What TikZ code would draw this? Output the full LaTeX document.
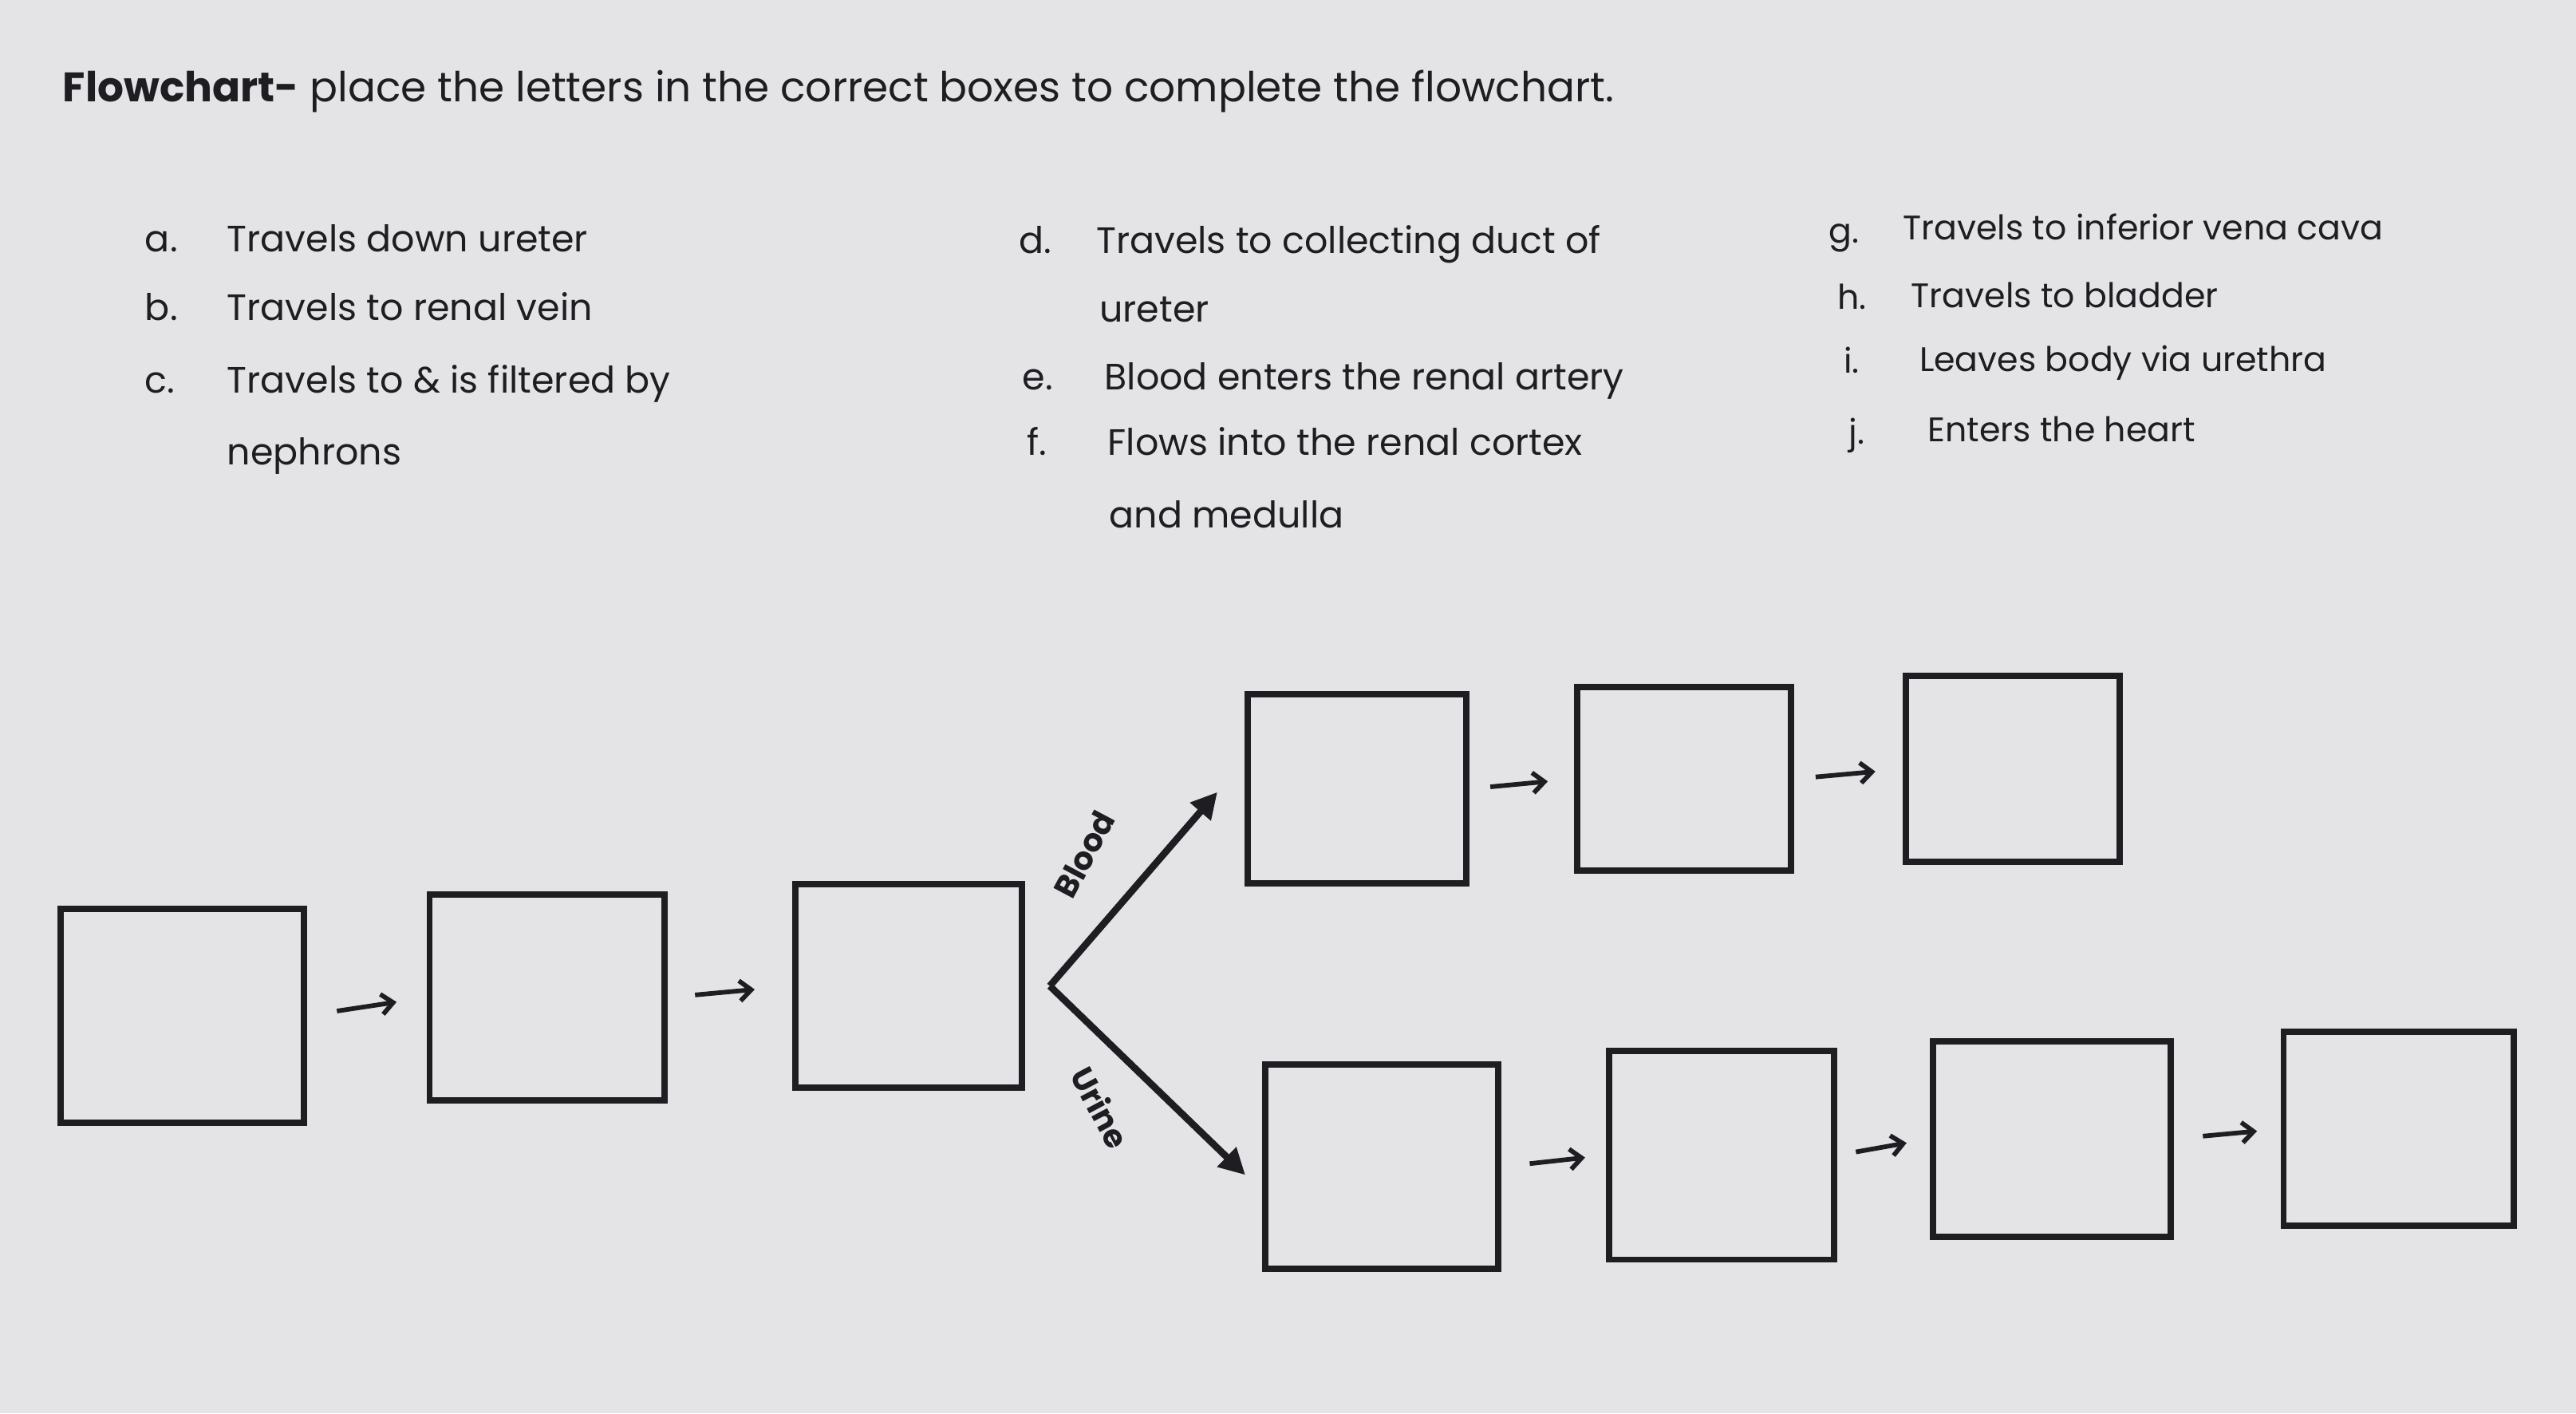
\documentclass[tikz,border=0pt]{standalone}
\usepackage{fontspec}
\setmainfont{Poppins}
\usetikzlibrary{calc,arrows.meta}
\definecolor{paper}{HTML}{E4E4E7}
\definecolor{ink}{HTML}{1E1E22}
\tikzset{
 bx/.style={draw=ink,line width=2.2pt,fill=paper,inner sep=0pt},
 arr/.style={draw=ink,line width=1.6pt,-{Straight Barb[length=4pt,width=7pt]}},
 brarr/.style={draw=ink,line width=2.4pt,-{Triangle[length=9pt,width=9pt]}},
 item/.style={anchor=base west,inner sep=0pt,font=\fontsize{12.7}{15}\selectfont,text=ink},
 itemg/.style={item,font=\fontsize{11.8}{14}\selectfont},
 lab/.style={font=\bfseries\fontsize{11}{13}\selectfont,text=ink,inner sep=0pt}
}
\begin{document}
\begin{tikzpicture}[x=0.02cm,y=-0.02cm]
\fill[paper] (0,0) rectangle (1568,860);
\useasboundingbox (0,0) rectangle (1568,860);
\node[item,font=\fontsize{14.3}{17}\selectfont] (title) at (38,62) {\textbf{Flowchart-} place the letters in the correct boxes to complete the flowchart.};
% column 1
\node[item] (la) at (88,153) {a.}; \node[item] (ta) at (138,153) {Travels down ureter};
\node[item] (lb) at (88,195) {b.}; \node[item] (tb) at (138,195) {Travels to renal vein};
\node[item] (lc) at (88,239) {c.}; \node[item] (tc) at (138,239) {Travels to \& is filtered by};
\node[item] (tc2) at (138,283) {nephrons};
% column 2
\node[item] (ld) at (620,154) {d.}; \node[item] (td) at (667,154) {Travels to collecting duct of};
\node[item] (td2) at (669,196) {ureter};
\node[item] (le) at (622,237) {e.}; \node[item] (te) at (672,237) {Blood enters the renal artery};
\node[item] (lf) at (625,277) {f.}; \node[item] (tf) at (674,277) {Flows into the renal cortex};
\node[item] (tf2) at (675,321) {and medulla};
% column 3
\node[itemg] (lg) at (1113,148) {g.}; \node[itemg] (tg) at (1158,146) {Travels to inferior vena cava};
\node[itemg] (lh) at (1118,188) {h.}; \node[itemg] (th) at (1163,187) {Travels to bladder};
\node[itemg] (li) at (1122,227) {i.}; \node[itemg] (ti) at (1168,226) {Leaves body via urethra};
\node[itemg] (lj) at (1125,270) {j.}; \node[itemg] (tj) at (1173,269) {Enters the heart};
% boxes
\node[bx,minimum width=148*0.02cm,minimum height=130*0.02cm] (L1) at (111,618) {};
\node[bx,minimum width=143*0.02cm,minimum height=125*0.02cm] (L2) at (333,607) {};
\node[bx,minimum width=138*0.02cm,minimum height=124*0.02cm] (L3) at (553,600) {};
\node[bx,minimum width=133*0.02cm,minimum height=115*0.02cm] (T1) at (826,480) {};
\node[bx,minimum width=130*0.02cm,minimum height=112*0.02cm] (T2) at (1025,474) {};
\node[bx,minimum width=130*0.02cm,minimum height=113*0.02cm] (T3) at (1225,468) {};
\node[bx,minimum width=142*0.02cm,minimum height=124*0.02cm] (B1) at (841,710) {};
\node[bx,minimum width=137*0.02cm,minimum height=127*0.02cm] (B2) at (1048,703) {};
\node[bx,minimum width=145*0.02cm,minimum height=119*0.02cm] (B3) at (1249,693) {};
\node[bx,minimum width=140*0.02cm,minimum height=118*0.02cm] (B4) at (1460,687) {};
% small arrows
\draw[arr] ($(L1.east)!0.25!(L2.west)$) -- ($(L1.east)!0.75!(L2.west)$);
\draw[arr] ($(L2.east)!0.22!(L3.west)$) -- ($(L2.east)!0.7!(L3.west)$);
\draw[arr] ($(T1.east)!0.2!(T2.west)$) -- ($(T1.east)!0.75!(T2.west)$);
\draw[arr] ($(T2.east)!0.2!(T3.west)$) -- ($(T2.east)!0.75!(T3.west)$);
\draw[arr] ($(B1.east)!0.27!(B2.west)$) -- ($(B1.east)!0.8!(B2.west)$);
\draw[arr] ($(B2.east)!0.2!(B3.west)$) -- ($(B2.east)!0.75!(B3.west)$);
\draw[arr] ($(B3.east)!0.27!(B4.west)$) -- ($(B3.east)!0.78!(B4.west)$);
% branch
\coordinate (V) at (639,600);
\coordinate (Vt) at (741,482);
\coordinate (Vb) at (758,715);
\draw[brarr] (V) -- (Vt);
\draw[brarr] (V) -- (Vb);
\node[lab,rotate=62] (blood) at (660,520) {Blood};
\node[lab,rotate=-62] (urine) at (670,674) {Urine};
\end{tikzpicture}
\end{document}
